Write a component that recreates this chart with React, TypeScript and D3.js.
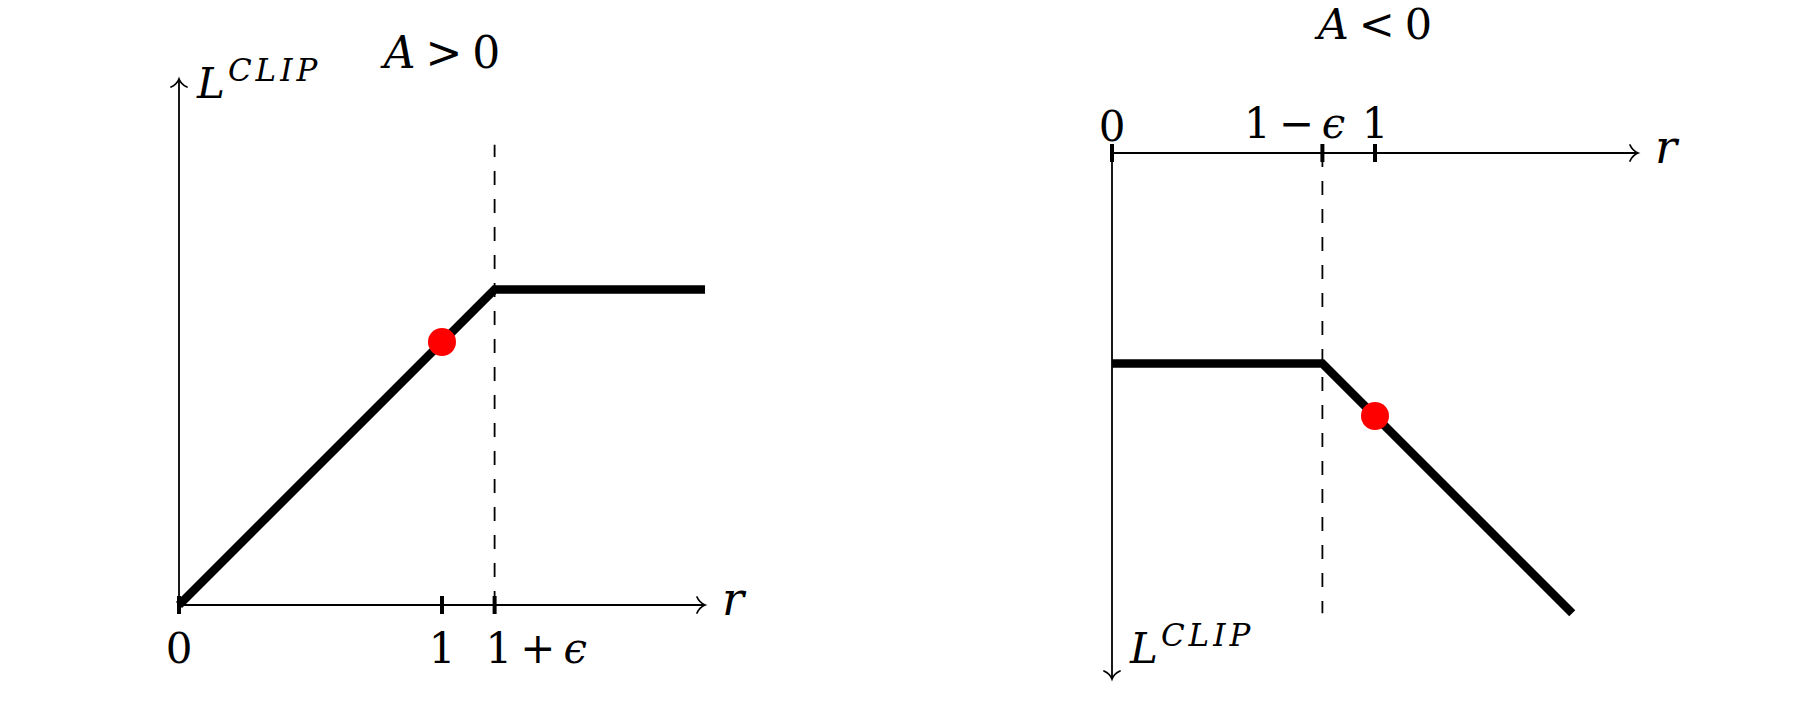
import * as d3 from "d3";

// values in r / L units
const eps = 0.2;
const rMax = 2;
const lMax = 2;
const dashLen = 1.75;

const posTicks = [0, 1, 1 + eps];
const posTickLabels = ["0", "1", "1 + \u03F5"];
const posCurve: [number, number][] = [[0, 0], [1 + eps, 1 + eps], [2, 1 + eps]];
const posDot: [number, number] = [1, 1];

const negTicks = [0, 1 - eps, 1];
const negTickLabels = ["0", "1 \u2212 \u03F5", "1"];
const negCurve: [number, number][] = [[0, -(1 - eps)], [1 - eps, -(1 - eps)], [1.75, -1.75]];
const negDot: [number, number] = [1, -1];

const W = 1808;
const H = 716;
const unit = 263;
const font = "DejaVu Serif";

function arrowHead(tx: number, ty: number, dir: "right" | "up" | "down") {
  // tikz style "to" arrow tip, drawn pointing right then rotated
  const rot = dir === "right" ? 0 : dir === "up" ? -90 : 90;
  return (
    <path
      d="M -8,-8 C -6,-3.5 -2.5,-1 0,0 C -2.5,1 -6,3.5 -8,8"
      transform={`translate(${tx},${ty}) rotate(${rot})`}
      fill="none"
      stroke="#000"
      strokeWidth={1.8}
      strokeLinecap="round"
    />
  );
}

function PosPanel() {
  const x = d3.scaleLinear().domain([0, rMax]).range([179, 179 + rMax * unit]);
  const y = d3.scaleLinear().domain([0, lMax]).range([605, 605 - lMax * unit]);
  const line = d3.line<[number, number]>().x((d) => x(d[0])).y((d) => y(d[1]));
  return (
    <g>
      {/* axes */}
      <line x1={x(0)} y1={y(0)} x2={x(rMax)} y2={y(0)} stroke="#000" strokeWidth={1.8} />
      {arrowHead(x(rMax), y(0), "right")}
      <line x1={x(0)} y1={y(0)} x2={x(0)} y2={y(lMax)} stroke="#000" strokeWidth={1.8} />
      {arrowHead(x(0), y(lMax), "up")}
      {/* dashed clip boundary */}
      <line x1={x(1 + eps)} y1={y(0)} x2={x(1 + eps)} y2={y(dashLen)} stroke="#000" strokeWidth={1.8} strokeDasharray="14 14" />
      {/* ticks */}
      {posTicks.map((t, i) => (
        <line key={i} x1={x(t)} x2={x(t)} y1={y(0) - 9} y2={y(0) + 9} stroke="#000" strokeWidth={4} />
      ))}
      <path d={line(posCurve) ?? ""} fill="none" stroke="#000" strokeWidth={8.5} strokeLinejoin="miter" />
      <circle cx={x(posDot[0])} cy={y(posDot[1])} r={14} fill="#ff0000" />
      {/* tick labels */}
      {posTickLabels.map((s, i) => (
        <text
          key={i}
          x={i === 2 ? x(posTicks[i]) - 9 : x(posTicks[i])}
          y={y(0) + 58}
          textAnchor={i === 2 ? "start" : "middle"}
          fontFamily={font}
          fontSize={42}
        >
          {i === 2 ? (
            <>
              <tspan>1</tspan>
              <tspan dx={8}>+</tspan>
              <tspan dx={8} fontStyle="italic">{"\u03F5"}</tspan>
            </>
          ) : (
            s
          )}
        </text>
      ))}
      <text x={x(rMax) + 17} y={y(0) + 10} fontFamily={font} fontSize={46} fontStyle="italic">r</text>
      <text x={x(0) + 18} y={y(lMax) + 19} fontFamily={font} fontSize={42} fontStyle="italic">
        L<tspan dy={-17} dx={3} fontSize={31} letterSpacing={4}>CLIP</tspan>
      </text>
      <text x={x(1)} y={68} textAnchor="middle" fontFamily={font} fontSize={44}>
        <tspan fontStyle="italic">A</tspan>
        <tspan dx={10}>{">"}</tspan>
        <tspan dx={10}>0</tspan>
      </text>
    </g>
  );
}

function NegPanel() {
  const x = d3.scaleLinear().domain([0, rMax]).range([1112, 1112 + rMax * unit]);
  const y = d3.scaleLinear().domain([0, -lMax]).range([153, 153 + lMax * unit]);
  const line = d3.line<[number, number]>().x((d) => x(d[0])).y((d) => y(d[1]));
  return (
    <g>
      <line x1={x(0)} y1={y(0)} x2={x(rMax)} y2={y(0)} stroke="#000" strokeWidth={1.8} />
      {arrowHead(x(rMax), y(0), "right")}
      <line x1={x(0)} y1={y(0)} x2={x(0)} y2={y(-lMax)} stroke="#000" strokeWidth={1.8} />
      {arrowHead(x(0), y(-lMax), "down")}
      <line x1={x(1 - eps)} y1={y(0)} x2={x(1 - eps)} y2={y(-dashLen)} stroke="#000" strokeWidth={1.8} strokeDasharray="14 14" />
      {negTicks.map((t, i) => (
        <line key={i} x1={x(t)} x2={x(t)} y1={y(0) - 9} y2={y(0) + 9} stroke="#000" strokeWidth={4} />
      ))}
      <path d={line(negCurve) ?? ""} fill="none" stroke="#000" strokeWidth={8.5} strokeLinejoin="miter" />
      <circle cx={x(negDot[0])} cy={y(negDot[1])} r={14} fill="#ff0000" />
      {negTickLabels.map((s, i) => (
        <text
          key={i}
          x={i === 1 ? x(negTicks[i]) + 23 : x(negTicks[i])}
          y={y(0) - (i === 0 ? 12 : 15)}
          textAnchor={i === 1 ? "end" : "middle"}
          fontFamily={font}
          fontSize={42}
        >
          {i === 1 ? (
            <>
              <tspan>1</tspan>
              <tspan dx={8}>{"\u2212"}</tspan>
              <tspan dx={8} fontStyle="italic">{"\u03F5"}</tspan>
            </>
          ) : (
            s
          )}
        </text>
      ))}
      <text x={x(rMax) + 17} y={y(0) + 10} fontFamily={font} fontSize={46} fontStyle="italic">r</text>
      <text x={x(0) + 18} y={y(-lMax) - 16} fontFamily={font} fontSize={42} fontStyle="italic">
        L<tspan dy={-17} dx={3} fontSize={31} letterSpacing={4}>CLIP</tspan>
      </text>
      <text x={x(1)} y={39} textAnchor="middle" fontFamily={font} fontSize={43}>
        <tspan fontStyle="italic">A</tspan>
        <tspan dx={10}>{"<"}</tspan>
        <tspan dx={10}>0</tspan>
      </text>
    </g>
  );
}

export default function App() {
  return (
    <svg
      width={W}
      height={H}
      viewBox={`0 0 ${W} ${H}`}
      style={{ position: "absolute", left: 0, top: 0, background: "#fff" }}
    >
      <rect width={W} height={H} fill="#fff" />
      <PosPanel />
      <NegPanel />
    </svg>
  );
}
